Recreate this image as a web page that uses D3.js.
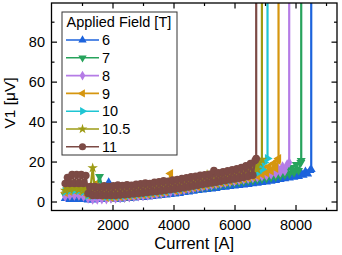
<!DOCTYPE html>
<html>
<head>
<meta charset="utf-8">
<script src="https://cdn.jsdelivr.net/npm/d3@7"></script>
<style>
  body { margin: 0; background: #fff; }
  text { font-family: "Liberation Sans", Arial, sans-serif; fill: #000; }
</style>
</head>
<body>
<svg id="chart" width="342" height="255"></svg>
<script>
// current sweep [A]: samples on the grid and half way between
const currentGrid = [450, 600, 750, 900, 1050, 1200, 1350, 1500, 1650, 1800, 1950, 2100, 2250, 2400,
  2550, 2700, 2850, 3000, 3150, 3300, 3450, 3600, 3750, 3900, 4050, 4200, 4350, 4500, 4650, 4800,
  4950, 5100, 5250, 5400, 5550, 5700, 5850, 6000, 6150, 6300, 6450, 6600, 6750, 6900, 7050, 7200,
  7350, 7500, 7650, 7800, 7950, 8100, 8250, 8400];
const currentMid = [525, 675, 825, 975, 1125, 1275, 1425, 1575, 1725, 1875, 2025, 2175, 2325, 2475,
  2625, 2775, 2925, 3075, 3225, 3375, 3525, 3675, 3825, 3975, 4125, 4275, 4425, 4575, 4725, 4875,
  5025, 5175, 5325, 5475, 5625, 5775, 5925, 6075, 6225, 6375, 6525, 6675, 6825, 6975, 7125, 7275,
  7425, 7575, 7725, 7875, 8025, 8175, 8325, 8475];

const fieldLabels = ["6", "7", "8", "9", "10", "10.5", "11"];
const quenchCurrent = [8515, 8187, 7793, 7443, 7082, 6898, 6711];
const quenchVoltage = [16, 20.5, 19.5, 21.5, 21.5, 21, 21.5];

// V1 [uV]: value at currentGrid (a) and at currentMid (b)
const v6Ta = [1.5, 1, 1, 1, 1, 0.8, 0.8, 1, 1, 4, 2, 1.2, 1.2, 1.5, 1.5, 1.8, 2, 2, 2.3, 2.5, 2.8, 3,
  3.3, 3.5, 3.8, 4, 4.5, 4.8, 5.2, 5.5, 5.8, 6, 6.3, 6.6, 7, 7.2, 7.5, 7.8, 8, 8.3, 8.6, 8.9, 9.2,
  9.5, 9.8, 10.2, 10.6, 11, 11.4, 11.8, 12.2, 12.6, 13.2, 13.8];
const v6Tb = [2.5, 3, 3, 3, 2.5, 2.5, 2.5, 2.5, 3, 9.5, 3, 3, 3, 3.2, 3.5, 3.5, 3.8, 4, 4, 4.3, 4.5,
  4.8, 5, 5.3, 5.6, 6, 6.3, 6.6, 7, 7.3, 7.6, 8, 8.3, 8.6, 9, 9.2, 9.5, 9.8, 10, 10.3, 10.6, 11,
  11.3, 11.6, 12, 12.3, 12.6, 13, 13.4, 13.8, 14.2, 14.6, 15, 15.5];
const v7Ta = [3, 3, 3.5, 3, 3, 2, 1.5, 9, 8, 2, 1.8, 1.8, 2, 2, 2.3, 2.5, 2.8, 3, 3.2, 3.5, 3.8, 4,
  4.3, 4.6, 5, 5.3, 5.7, 6, 6.4, 6.7, 7, 7.3, 7.6, 8, 8.3, 8.6, 9, 9.3, 9.6, 10, 10.3, 10.6, 11,
  11.3, 11.6, 12, 12.4, 12.8, 13.3, 13.8, 14.5, 15.5];
const v7Tb = [5, 5.5, 5.5, 5.5, 5, 4, 8, 12.5, 3, 3.5, 3.5, 3.5, 3.8, 4, 4.2, 4.5, 4.6, 4.8, 5, 5.3,
  5.6, 6, 6.2, 6.5, 6.8, 7.2, 7.5, 7.8, 8.2, 8.5, 8.8, 9.2, 9.5, 9.8, 10.2, 10.5, 10.8, 11.2, 11.5,
  11.8, 12.2, 12.5, 12.8, 13.2, 13.6, 14, 14.5, 15.2, 16, 17, 18.5, 19.5];
const v8Ta = [2.5, 3, 3, 3, 2.5, 1.5, 1, 1, 1.2, 1.2, 1.5, 1.5, 1.8, 2, 2.2, 2.4, 2.6, 2.8, 3, 3.3,
  3.6, 4, 4.3, 4.6, 5, 5.4, 5.8, 6.2, 6.6, 7, 7.4, 7.8, 8.2, 8.6, 9, 9.4, 9.8, 10.2, 10.6, 11, 11.4,
  11.8, 12.2, 12.6, 13, 13.5, 14, 14.6, 15.3];
const v8Tb = [4.5, 5, 5, 5, 4.5, 3, 3, 3, 3, 3.2, 3.2, 3.5, 3.5, 3.8, 4, 4.2, 4.5, 4.7, 5, 5.3, 5.6,
  6, 6.3, 6.6, 7, 7.4, 7.8, 8.2, 8.6, 9, 9.4, 9.8, 10.2, 10.6, 11, 11.4, 11.8, 12.2, 12.6, 13, 13.4,
  13.9, 14.4, 15, 15.5, 16, 16.7, 17.5, 18.5];
const v9Ta = [4.5, 5, 5.5, 5, 5, 3, 7, 7.5, 2.5, 2, 2, 2.2, 2.4, 2.6, 2.8, 3, 3.2, 3.4, 3.6, 3.9,
  4.2, 4.5, 4.8, 14, 5.4, 5.8, 6.2, 6.6, 7, 7.4, 7.8, 8.2, 8.6, 9, 9.4, 9.8, 10.2, 10.6, 11, 11.4,
  11.8, 12.3, 12.8, 13.5, 14.3, 15.2, 16.5];
const v9Tb = [7, 7.5, 7.5, 7.5, 7, 6, 8.5, 6.5, 4, 4, 4, 4.2, 4.4, 4.6, 4.8, 5, 5.2, 5.4, 5.6, 5.9,
  6.2, 6.5, 6.8, 7, 7.4, 7.8, 8.2, 8.6, 9, 9.4, 9.8, 10.2, 10.6, 11, 11.4, 11.8, 12.2, 12.7, 13.2,
  13.7, 14.2, 14.8, 15.5, 16.5, 17.5, 19, 20.5];
const v10Ta = [5, 5.5, 5.5, 5.5, 5, 3, 3, 3, 7.5, 2.5, 2.5, 2.7, 2.9, 3.1, 3.3, 3.5, 3.7, 3.9, 4.1,
  4.4, 4.7, 5, 5.3, 5.6, 6, 6.4, 6.8, 7.2, 7.6, 8, 8.4, 8.8, 9.2, 9.6, 10, 10.4, 10.8, 11.2, 11.7,
  12.2, 12.8, 13.5, 14.3, 16];
const v10Tb = [7.5, 8, 8, 7.5, 7, 5, 5, 6, 4.5, 4.5, 4.5, 4.7, 4.9, 5.1, 5.3, 5.5, 5.7, 5.9, 6.1,
  6.4, 6.7, 7, 7.3, 7.6, 8, 8.4, 8.8, 9.2, 9.6, 10, 12.5, 10.8, 11.2, 11.6, 12, 12.5, 13, 13.5, 14,
  14.7, 15.4, 16.2, 17.2, 19.5];
const v10p5Ta = [5.5, 6, 6.5, 6, 5.5, 3.5, 16.8, 3.5, 3.5, 3.5, 3.5, 3.7, 3.9, 4.1, 4.3, 4.5, 4.7,
  4.9, 5.1, 5.4, 5.7, 6, 6.3, 6.6, 7, 7.4, 7.8, 8.2, 8.6, 9, 9.4, 13.5, 10.2, 10.6, 11, 11.4, 11.8,
  12.3, 12.9, 13.5, 14.2, 15, 16];
const v10p5Tb = [8, 8.5, 8.5, 8.5, 8, 6, 5, 5.5, 5.5, 5.5, 5.5, 5.7, 5.9, 6.1, 6.3, 6.5, 6.7, 6.9,
  7.1, 7.4, 7.7, 8, 8.3, 8.6, 9, 9.4, 9.8, 10.2, 10.6, 11, 11.4, 11.8, 12.2, 12.6, 13, 13.5, 14,
  14.6, 15.3, 16, 17, 18, 19.5];
const v11Ta = [9, 9, 9, 9, 9, 4, 3, 3, 3, 3, 3, 3, 3.2, 3.4, 3.6, 3.8, 4, 4.2, 4.5, 4.8, 5, 5.3, 5.6,
  5.9, 6.2, 6.5, 6.9, 7.3, 7.7, 8.1, 8.5, 8.9, 9.3, 9.7, 10.1, 10.5, 10.9, 11.3, 11.7, 12.1, 12.6,
  13.2];
const v11Tb = [12, 13.5, 13.5, 13.5, 13, 7.5, 7.5, 7.2, 7.8, 7.5, 7.8, 8.2, 8, 8.4, 8.1, 8.6, 8.8,
  9.2, 9, 9.6, 9.8, 10.3, 10.1, 10.7, 11, 11.5, 11.8, 12.4, 12.6, 13.1, 13.3, 13.6, 15.5, 14.4, 14.8,
  15.4, 15.8, 16.4, 17, 17.8, 19, 20.5];

const xMajor = [2000, 4000, 6000, 8000];
const xMinor = [1000, 3000, 5000, 7000, 9000];
const yMajor = [0, 20, 40, 60, 80];
const yMinor = [10, 30, 50, 70, 90];

const colors = ["#1c63dc", "#27a35c", "#b57ce6", "#d6960f", "#1ec5d3", "#9d9b14", "#7c4a45"];
const symbols = [
  { type: d3.symbolTriangle, rot: 0, size: 30 },
  { type: d3.symbolTriangle, rot: 180, size: 30 },
  { type: d3.symbolDiamond, rot: 0, size: 28 },
  { type: d3.symbolTriangle, rot: -90, size: 30 },
  { type: d3.symbolTriangle, rot: 90, size: 30 },
  { type: d3.symbolStar, rot: 0, size: 30 },
  { type: d3.symbolCircle, rot: 0, size: 40 }
];

const valsA = [v6Ta, v7Ta, v8Ta, v9Ta, v10Ta, v10p5Ta, v11Ta];
const valsB = [v6Tb, v7Tb, v8Tb, v9Tb, v10Tb, v10p5Tb, v11Tb];

const series = valsA.map((a, k) => {
  let pts = [];
  a.forEach((v, i) => {
    pts.push([currentGrid[i], v]);
    pts.push([currentMid[i], valsB[k][i]]);
  });
  pts.push([quenchCurrent[k], quenchVoltage[k]]);
  return { label: fieldLabels[k], color: colors[k], sym: symbols[k], pts: pts,
    tail: [quenchCurrent[k], 140] };
});

const svg = d3.select('#chart');
const L = 51.5, R = 337, T = 3, B = 210.5;

const x = d3.scaleLinear().domain([0, 9360]).range([L, R]);
const y = d3.scaleLinear().domain([-4.5, 99.35]).range([B, T]);

svg.append('defs').append('clipPath').attr('id', 'plotclip')
  .append('rect').attr('x', L).attr('y', T).attr('width', R - L).attr('height', B - T);

const plot = svg.append('g').attr('clip-path', 'url(#plotclip)');
const line = d3.line().x(d => x(d[0])).y(d => y(d[1]));

series.forEach(s => {
  let g = plot.append('g');
  g.append('path').datum(s.pts.concat([s.tail]))
    .attr('d', line)
    .attr('fill', 'none')
    .attr('stroke', s.color)
    .attr('stroke-width', 2.2)
    .attr('stroke-linejoin', 'round');
  g.selectAll('path.pt').data(s.pts).enter().append('path')
    .attr('class', 'pt')
    .attr('d', d3.symbol().type(s.sym.type).size(s.sym.size * 1.15))
    .attr('transform', d => `translate(${x(d[0])},${y(d[1])}) rotate(${s.sym.rot})`)
    .attr('fill', s.color);
});

// axes, ticks pointing in
const axisG = svg.append('g');
axisG.append('g').attr('transform', `translate(0,${B})`)
  .call(d3.axisBottom(x).tickValues(xMajor).tickSize(-5.5).tickPadding(9).tickFormat(d3.format('d')));
axisG.append('g').attr('transform', `translate(0,${B})`)
  .call(d3.axisBottom(x).tickValues(xMinor).tickSize(-3).tickFormat(''));
axisG.append('g').attr('transform', `translate(0,${T})`)
  .call(d3.axisTop(x).tickValues(xMajor).tickSize(-5.5).tickFormat(''));
axisG.append('g').attr('transform', `translate(0,${T})`)
  .call(d3.axisTop(x).tickValues(xMinor).tickSize(-3).tickFormat(''));
axisG.append('g').attr('transform', `translate(${L},0)`)
  .call(d3.axisLeft(y).tickValues(yMajor).tickSize(-5.5).tickPadding(6.5));
axisG.append('g').attr('transform', `translate(${L},0)`)
  .call(d3.axisLeft(y).tickValues(yMinor).tickSize(-3).tickFormat(''));
axisG.append('g').attr('transform', `translate(${R},0)`)
  .call(d3.axisRight(y).tickValues(yMajor).tickSize(-5.5).tickFormat(''));
axisG.append('g').attr('transform', `translate(${R},0)`)
  .call(d3.axisRight(y).tickValues(yMinor).tickSize(-3).tickFormat(''));

axisG.selectAll('.domain').remove();
axisG.selectAll('.tick line').attr('stroke', '#000').attr('stroke-width', 1.2);
axisG.selectAll('.tick text').style('font-size', '14.5px')
  .style('font-family', '"Liberation Sans", Arial, sans-serif').attr('fill', '#000');

svg.append('rect').attr('x', L).attr('y', T).attr('width', R - L).attr('height', B - T)
  .attr('fill', 'none').attr('stroke', '#000').attr('stroke-width', 1.3);

svg.append('text').attr('x', (L + R) / 2).attr('y', 249)
  .attr('text-anchor', 'middle').style('font-size', '16.5px').text('Current [A]');
svg.append('text').attr('transform', 'translate(15,103) rotate(-90)')
  .attr('text-anchor', 'middle').style('font-size', '15.5px').text('V1 [\u03bcV]');

// legend
const leg = svg.append('g');
leg.append('rect').attr('x', 62).attr('y', 12).attr('width', 115).attr('height', 143)
  .attr('fill', '#fff').attr('stroke', '#333').attr('stroke-width', 1);
leg.append('text').attr('x', 66.5).attr('y', 27).style('font-size', '14.5px').text('Applied Field [T]');
const rowY = d3.scalePoint().domain(fieldLabels).range([40, 146.8]);
const rows = leg.selectAll('g.row').data(series).enter().append('g')
  .attr('transform', d => `translate(0,${rowY(d.label)})`);
rows.append('line').attr('x1', 66).attr('x2', 99)
  .attr('stroke', d => d.color).attr('stroke-width', 1.6);
rows.append('path')
  .attr('d', d => d3.symbol().type(d.sym.type).size(d.sym.size)())
  .attr('transform', d => `translate(82.5,0) rotate(${d.sym.rot})`)
  .attr('fill', d => d.color);
rows.append('text').attr('x', 102).attr('y', 5.2).style('font-size', '14.5px').text(d => d.label);
</script>
</body>
</html>
